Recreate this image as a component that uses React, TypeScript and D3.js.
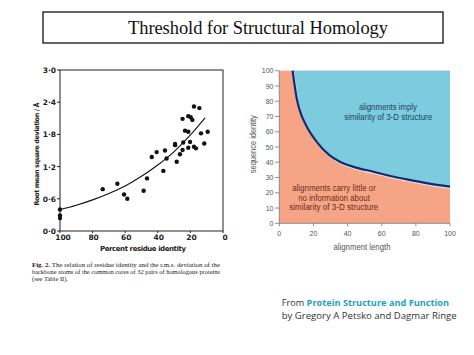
import React from "react";
import * as d3 from "d3";

// ---------- Left chart data (Chothia & Lesk) ----------
const scatterIdentity = [100, 100, 100, 73.8, 64.8, 60.7, 58.7, 48.7, 46.6, 43.7, 40.7, 35.6, 34.6, 36.6, 29.4, 29.4, 28.4, 26.4, 24.8, 24.4, 24.8, 23.3, 21.3, 21.3, 19.8, 18.8, 21.3, 20.2, 17.8, 14.5, 17.8, 16.6, 13.5, 11.5, 9.4];
const scatterRmsd = [0.40, 0.29, 0.24, 0.78, 0.88, 0.68, 0.60, 0.75, 0.98, 1.38, 1.47, 1.50, 1.35, 1.12, 1.62, 1.60, 1.29, 1.43, 2.09, 1.65, 1.51, 1.87, 1.85, 2.14, 2.12, 2.07, 1.55, 1.66, 2.32, 2.29, 1.57, 1.54, 1.82, 1.63, 1.85];
const fitIdentity = [100, 90, 80, 70, 60, 50, 40, 30, 20, 11];
const fitRmsd = [0.40, 0.48, 0.58, 0.70, 0.84, 1.02, 1.23, 1.48, 1.79, 2.11];
const leftYTicks = [0, 0.6, 1.2, 1.8, 2.4, 3.0];
const leftYTickLabels = ["0·0", "0·6", "1·2", "1·8", "2·4", "3·0"];
const leftXTicks = [100, 80, 60, 40, 20, 0];

// ---------- Right chart data (threshold curve) ----------
const thresholdLength = [7.8, 10.2, 12, 15.6, 21.9, 29.3, 35.5, 45, 55.1, 65, 74.6, 87, 100];
const thresholdIdentity = [100, 82, 74, 64.4, 53.4, 44.7, 40.3, 36.5, 33.8, 31, 28.8, 26.2, 24];
const rightYTicks = [0, 10, 20, 30, 40, 50, 60, 70, 80, 90, 100];
const rightXTicks = [0, 20, 40, 60, 80, 100];

const captionLines = [
  "The relation of residue identity and the r.m.s. deviation of the",
  "backbone atoms of the common cores of 32 pairs of homologous proteins",
  "(see Table II).",
];

export default function App() {
  // Left scales
  const lx = d3.scaleLinear().domain([100, 0]).range([60, 223]);
  const ly = d3.scaleLinear().domain([0, 3]).range([231, 70]);
  const fitLine = d3
    .line<number>()
    .x((_, i) => lx(fitIdentity[i]))
    .y((d) => ly(d))
    .curve(d3.curveMonotoneX)(fitRmsd) as string;

  // Right scales
  const rx = d3.scaleLinear().domain([0, 100]).range([279.3, 450]);
  const ry = d3.scaleLinear().domain([0, 100]).range([223.3, 70.7]);
  const thrArea = d3
    .area<number>()
    .x((_, i) => rx(thresholdLength[i]))
    .y0((d) => ry(d))
    .y1(() => ry(100))
    .curve(d3.curveMonotoneX)(thresholdIdentity) as string;
  const thrLine = d3
    .line<number>()
    .x((_, i) => rx(thresholdLength[i]))
    .y((d) => ry(d))
    .curve(d3.curveMonotoneX)(thresholdIdentity) as string;

  const oldFont = "'DejaVu Sans', sans-serif";
  const grayFont = "'Liberation Sans', Arial, sans-serif";

  return (
    <svg
      width={474}
      height={355}
      style={{ position: "absolute", left: 0, top: 0, background: "#fff" }}
    >
      {/* Title box */}
      <rect x={43} y={12} width={400} height={31} fill="none" stroke="#111" strokeWidth={1.3} />
      <text
        x={258}
        y={34}
        textAnchor="middle"
        fontFamily="'Liberation Serif', 'Times New Roman', serif"
        fontSize={18.5}
        textLength={260}
        lengthAdjust="spacing"
        fill="#111"
      >
        Threshold for Structural Homology
      </text>

      {/* ---------- Left chart ---------- */}
      <rect x={60} y={70} width={163} height={161} fill="none" stroke="#222" strokeWidth={1} />
      {leftYTicks.map((t, i) => (
        <g key={"ly" + i}>
          <line x1={57} x2={60} y1={ly(t)} y2={ly(t)} stroke="#222" strokeWidth={1} />
          <text
            x={56}
            y={ly(t) + 3}
            textAnchor="end"
            fontFamily={oldFont}
            fontSize={7.5}
            fontWeight="bold"
            fill="#222"
          >
            {leftYTickLabels[i]}
          </text>
        </g>
      ))}
      {leftXTicks.map((t, i) => (
        <g key={"lx" + i}>
          <line x1={lx(t)} x2={lx(t)} y1={231} y2={233} stroke="#222" strokeWidth={1} />
          <text
            x={lx(t) + (t === 100 ? 3 : t === 0 ? 2 : 1)}
            y={239.5}
            textAnchor="middle"
            fontFamily={oldFont}
            fontSize={7.5}
            fontWeight="bold"
            fill="#222"
          >
            {t}
          </text>
        </g>
      ))}
      <text
        transform={`translate(39,154) rotate(-90)`}
        textAnchor="middle"
        fontFamily={oldFont}
        fontSize={6.5}
        fontWeight="bold"
        textLength={103}
        lengthAdjust="spacing"
        fill="#222"
      >
        Root mean square deviation / Å
      </text>
      <text
        x={143}
        y={250.5}
        textAnchor="middle"
        fontFamily={oldFont}
        fontSize={7}
        fontWeight="bold"
        textLength={86}
        lengthAdjust="spacing"
        fill="#222"
      >
        Percent residue identity
      </text>
      <path d={fitLine} fill="none" stroke="#111" strokeWidth={1.1} />
      {scatterIdentity.map((d, i) => (
        <circle key={"p" + i} cx={lx(d)} cy={ly(scatterRmsd[i])} r={2.2} fill="#111" />
      ))}

      {/* Caption */}
      <text x={32} y={266.5} fontFamily="'Liberation Serif', serif" fontSize={6.4} fill="#222" textLength={188} lengthAdjust="spacingAndGlyphs">
        <tspan fontWeight="bold">Fig. 2. </tspan>
        {captionLines[0]}
      </text>
      <text x={32} y={273.8} fontFamily="'Liberation Serif', serif" fontSize={6.4} fill="#222" textLength={188} lengthAdjust="spacingAndGlyphs">
        {captionLines[1]}
      </text>
      <text x={32} y={280.5} fontFamily="'Liberation Serif', serif" fontSize={6.4} fill="#222" textLength={36} lengthAdjust="spacingAndGlyphs">
        {captionLines[2]}
      </text>

      {/* ---------- Right chart ---------- */}
      <rect x={rx(0)} y={ry(100)} width={rx(100) - rx(0)} height={ry(0) - ry(100)} fill="#F5A585" />
      <path d={thrArea} fill="#7DCBDF" />
      <path d={thrLine} fill="none" stroke="#E4E4F0" strokeWidth={2} transform="translate(0.8,1.4)" />
      <path d={thrLine} fill="none" stroke="#15296B" strokeWidth={2.2} />
      <line x1={rx(0)} x2={rx(0)} y1={ry(100)} y2={ry(0)} stroke="#777" strokeWidth={0.8} />
      <line x1={rx(0)} x2={rx(100)} y1={ry(0)} y2={ry(0)} stroke="#777" strokeWidth={0.8} />
      {rightYTicks.map((t) => (
        <g key={"ry" + t}>
          <line x1={275} x2={rx(0)} y1={ry(t)} y2={ry(t)} stroke="#777" strokeWidth={0.8} />
          <text
            x={273.5}
            y={ry(t) + 2.6}
            textAnchor="end"
            fontFamily={grayFont}
            fontSize={7}
            fill="#555"
          >
            {t}
          </text>
        </g>
      ))}
      {rightXTicks.map((t) => (
        <g key={"rx" + t}>
          <line x1={rx(t)} x2={rx(t)} y1={ry(0)} y2={ry(0) + 3} stroke="#777" strokeWidth={0.8} />
          <text
            x={rx(t)}
            y={235.8}
            textAnchor="middle"
            fontFamily={grayFont}
            fontSize={7}
            fill="#555"
          >
            {t}
          </text>
        </g>
      ))}
      <text
        transform="translate(255.5,144.2) rotate(-90)"
        textAnchor="middle"
        fontFamily={grayFont}
        fontSize={8.5}
        textLength={58}
        lengthAdjust="spacingAndGlyphs"
        fill="#555"
      >
        sequence identity
      </text>
      <text
        x={362}
        y={249.5}
        textAnchor="middle"
        fontFamily={grayFont}
        fontSize={8.5}
        textLength={57}
        lengthAdjust="spacingAndGlyphs"
        fill="#555"
      >
        alignment length
      </text>

      {/* Region labels */}
      <g fontFamily={grayFont} fontSize={8.3} textAnchor="middle">
        <text x={388} y={110.2} fill="#1F4356" textLength={58} lengthAdjust="spacingAndGlyphs">
          alignments imply
        </text>
        <text x={388.2} y={120} fill="#1F4356" textLength={88} lengthAdjust="spacingAndGlyphs">
          similarity of 3-D structure
        </text>
        <text x={334} y={191.2} fill="#6E2A1C" textLength={83.7} lengthAdjust="spacingAndGlyphs">
          alignments carry little or
        </text>
        <text x={334} y={200.6} fill="#6E2A1C" textLength={71.7} lengthAdjust="spacingAndGlyphs">
          no information about
        </text>
        <text x={333.8} y={210.4} fill="#6E2A1C" textLength={89} lengthAdjust="spacingAndGlyphs">
          similarity of 3-D structure
        </text>
      </g>

      {/* Credit */}
      <text x={281.7} y={305.5} fontFamily="'Open Sans', sans-serif" fontSize={9.2} fill="#333">
        From <tspan fontWeight="bold" fill="#1E9FC4">Protein Structure and Function</tspan>
      </text>
      <text x={281.7} y={318.8} fontFamily="'Open Sans', sans-serif" fontSize={9.4} fill="#333" textLength={175} lengthAdjust="spacingAndGlyphs">
        by Gregory A Petsko and Dagmar Ringe
      </text>
    </svg>
  );
}
